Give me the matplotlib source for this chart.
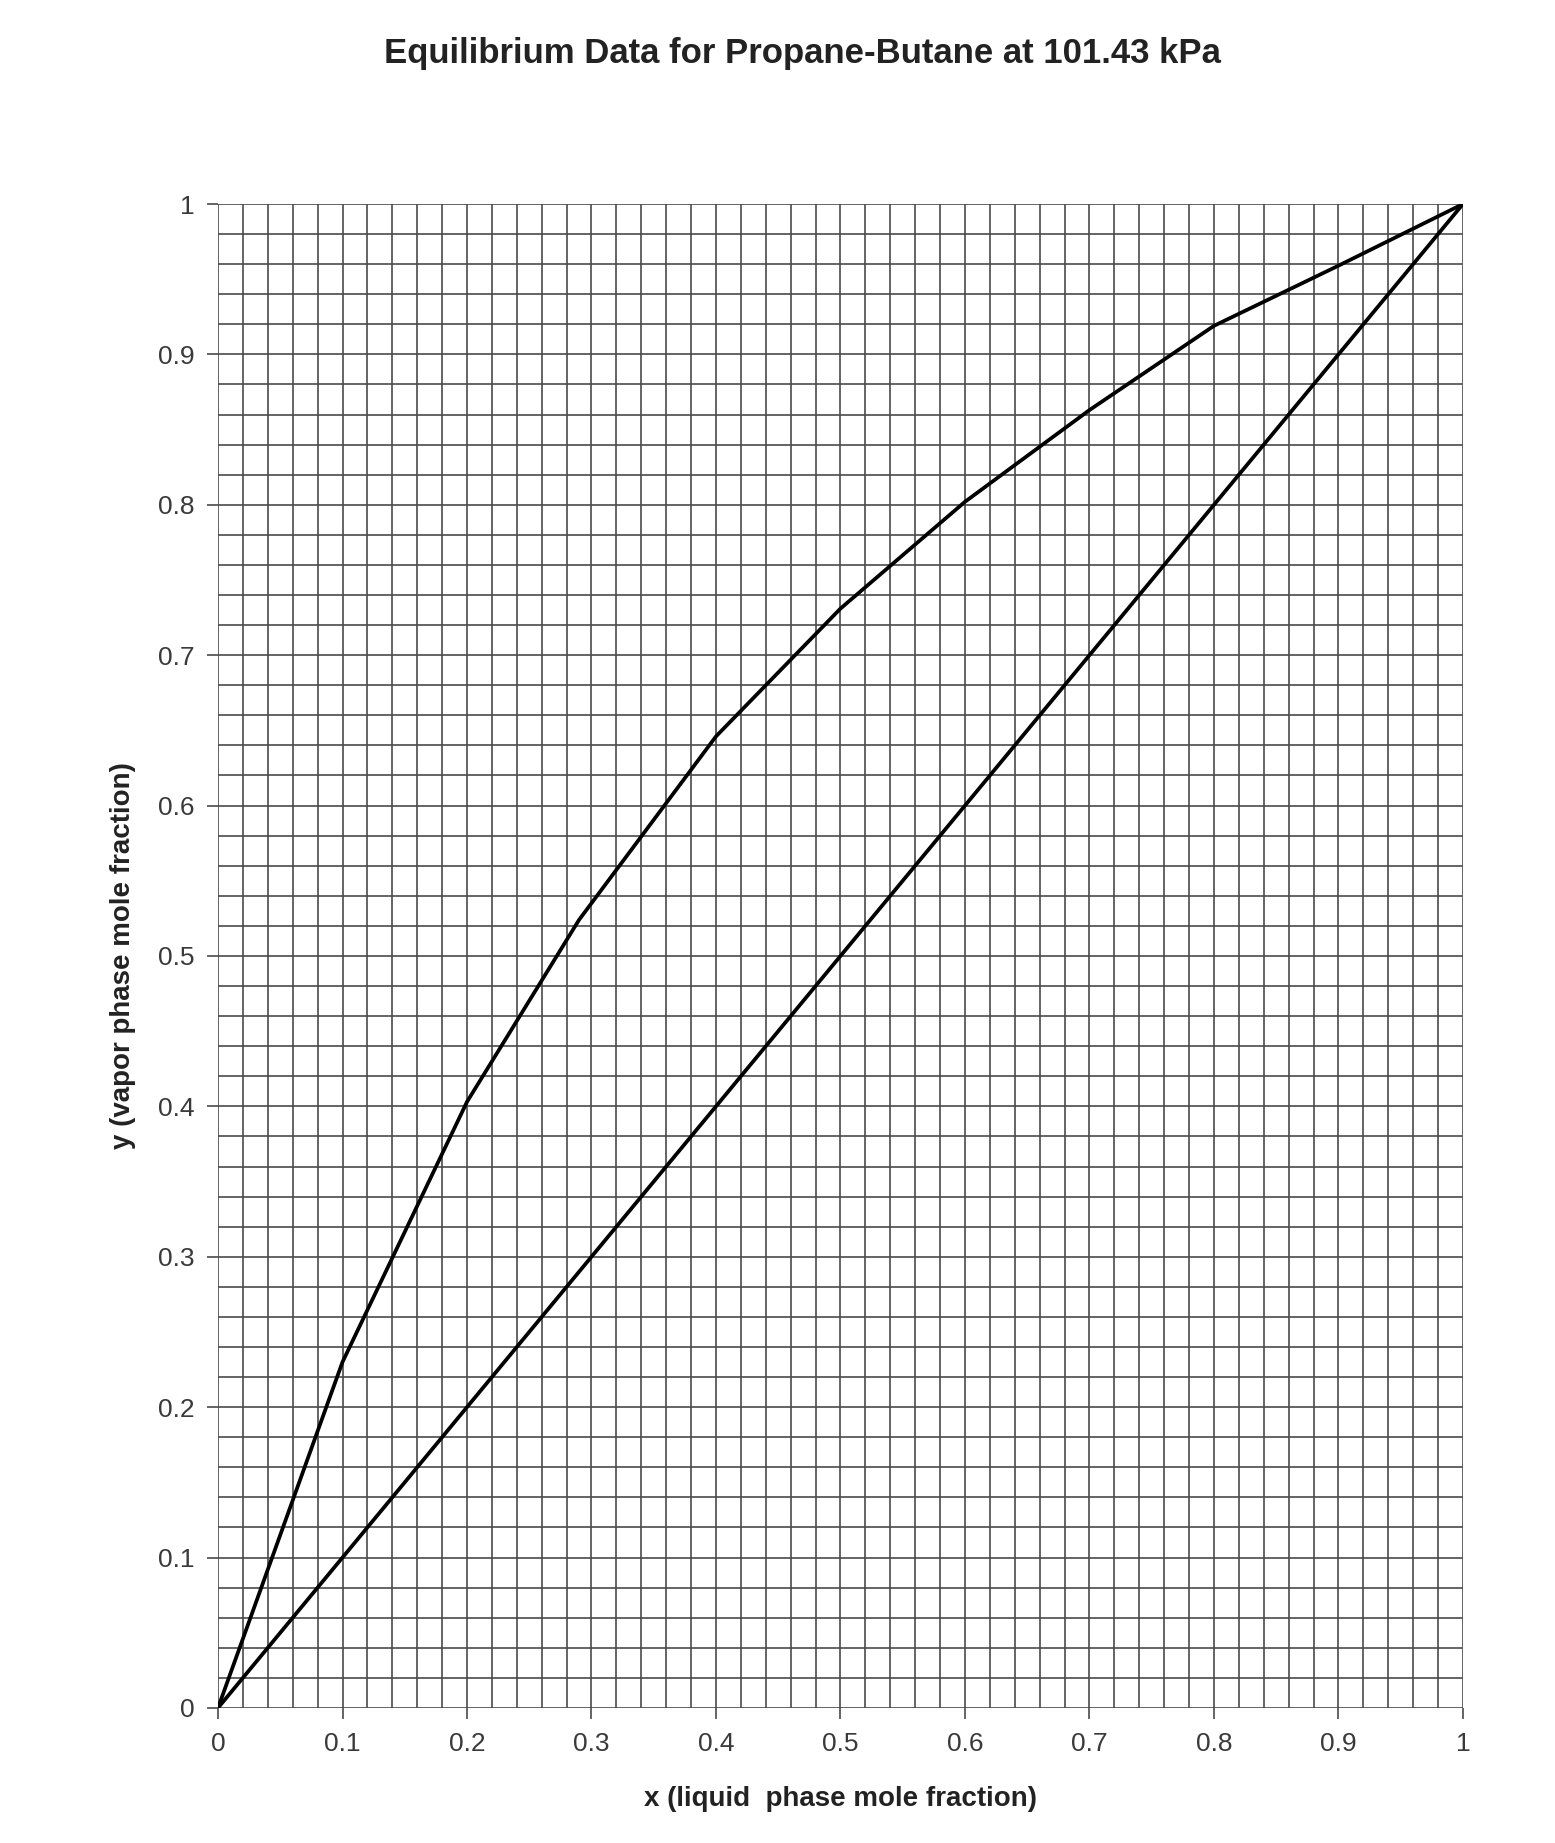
import matplotlib
matplotlib.use("Agg")
import matplotlib.pyplot as plt
import numpy as np

# Data
x_eq = [0.0, 0.1, 0.2, 0.29, 0.4, 0.5, 0.6, 0.7, 0.8, 0.9, 1.0]
y_eq = [0.0, 0.23, 0.403, 0.524, 0.646, 0.731, 0.802, 0.863, 0.919, 0.959, 1.0]
x_diag = [0.0, 0.11, 0.52, 0.73, 1.0]
y_diag = [0.0, 0.11, 0.52, 0.73, 1.0]
tick_vals = [0, 0.1, 0.2, 0.3, 0.4, 0.5, 0.6, 0.7, 0.8, 0.9, 1]
tick_labels = ["0", "0.1", "0.2", "0.3", "0.4", "0.5", "0.6", "0.7", "0.8", "0.9", "1"]

plt.rcParams['font.family'] = ['Liberation Sans', 'DejaVu Sans']

fig = plt.figure(figsize=(15.55, 18.43), dpi=100)
ax = fig.add_axes([0.1402, 0.0733, 0.8006, 0.8160])

ax.set_xlim(0, 1)
ax.set_ylim(0, 1)

# grid every 0.02
minor = np.arange(0, 1.0001, 0.02)
for v in minor:
    ax.axvline(v, color='#4a4a4a', lw=1.2, zorder=1)
    ax.axhline(v, color='#4a4a4a', lw=1.2, zorder=1)

ax.plot(x_eq, y_eq, color='black', lw=2.7, zorder=3, solid_joinstyle='round')
ax.plot(x_diag, y_diag, color='black', lw=2.7, zorder=3)

for s in ax.spines.values():
    s.set_visible(False)

ax.set_xticks(tick_vals)
ax.set_xticklabels(tick_labels)
ax.set_yticks(tick_vals)
ax.set_yticklabels(tick_labels)
ax.tick_params(axis='both', length=8, width=1.2, color='#4a4a4a',
               labelsize=19, labelcolor='#3a3a3a', pad=9)

ax.set_xlabel("x (liquid  phase mole fraction)", fontsize=20, fontweight='bold',
              color='#222222', labelpad=22)
ax.set_ylabel("y (vapor phase mole fraction)", fontsize=20, fontweight='bold',
              color='#222222', labelpad=16)

fig.text(0.516, 0.971, "Equilibrium Data for Propane-Butane at 101.43 kPa",
         ha='center', va='center', fontsize=25, fontweight='bold', color='#222222')

fig.savefig("out.png", dpi=100, facecolor='white')
